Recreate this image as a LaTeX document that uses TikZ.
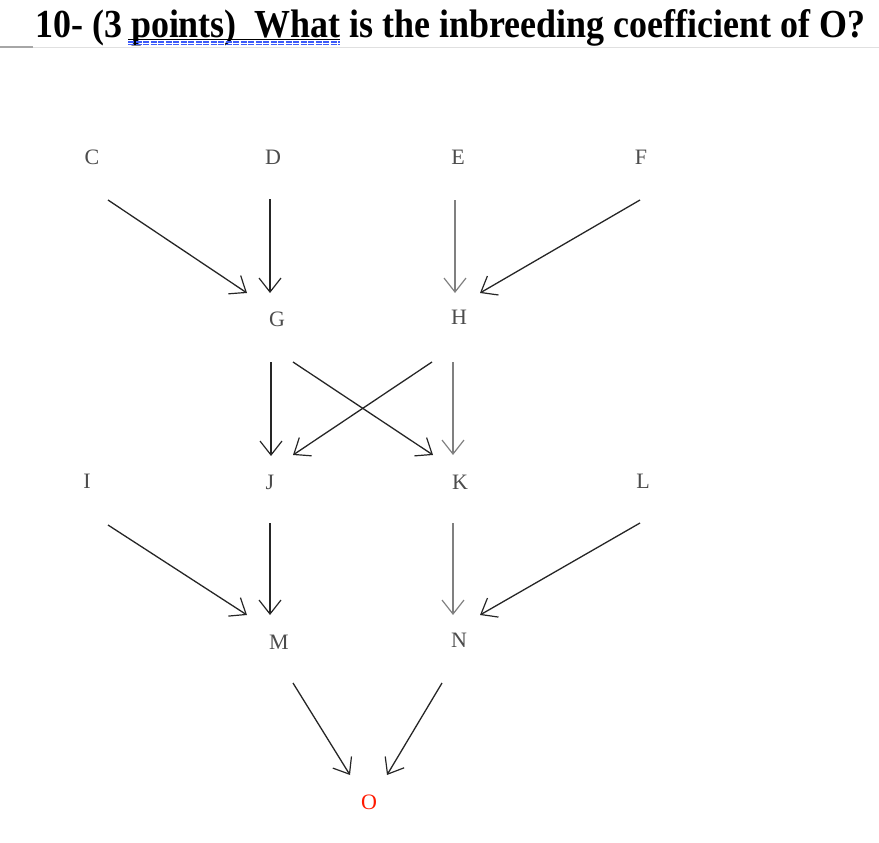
\documentclass[tikz,border=0pt]{standalone}
\usepackage{fontspec, graphicx}
\setmainfont{Liberation Serif}
\usetikzlibrary{arrows.meta}

\definecolor{spellblue}{RGB}{60,90,250}
\tikzset{
  person/.style={inner sep=0pt, text=black!70, font=\fontsize{22}{22}\selectfont},
  arr/.style={line width=1.3pt, draw=black!85, -{Straight Barb[length=14pt, width=22pt, line width=1.2pt]}},
  arrgray/.style={arr, draw=black!50}
}

\begin{document}
\begin{tikzpicture}[x=1pt, y=-1pt]
\useasboundingbox (0,0) rectangle (879,843);
% title
\node[anchor=base west, inner sep=0pt] (title) at (35,38)
  {\resizebox{830pt}{28pt}{\bfseries 10- (3 points)\ \ What is the inbreeding coefficient of O?}};
\draw[line width=1.6pt, black!35] (0,47) -- (33,47);
\draw[line width=0.6pt, black!12] (33,47) -- (879,47);
\draw[line width=0.8pt, black] (128,39.5) -- (340,39.5);
\draw[line width=1.6pt, spellblue, dash pattern=on 6pt off 1.5pt] (128,41.8) -- (340,41.8);
\draw[line width=1.6pt, spellblue, dash pattern=on 6pt off 1.5pt] (128,44.5) -- (340,44.5);
% individuals
\node[person] (C) at (92,157) {C};
\node[person] (D) at (273,157) {D};
\node[person] (E) at (458,157) {E};
\node[person] (F) at (641,157) {F};
\node[person] (G) at (277,319) {G};
\node[person] (H) at (459,317) {H};
\node[person] (I) at (87,481) {I};
\node[person] (J) at (270,482) {J};
\node[person] (K) at (460,482) {K};
\node[person] (L) at (643,481) {L};
\node[person] (M) at (279,642) {M};
\node[person] (N) at (459,640) {N};
\node[person, text=red!80!orange] (O) at (369,802) {O};
% descent
\draw[arr] ([shift={(16,43)}]C.center) -- ([shift={(-30,-26)}]G.center);
\draw[arr] ([shift={(-3,42)}]D.center) -- ([shift={(-7,-26)}]G.center);
\draw[arrgray] ([shift={(-3,43)}]E.center) -- ([shift={(-4,-24)}]H.center);
\draw[arr] ([shift={(-1,43)}]F.center) -- ([shift={(21,-24)}]H.center);
\draw[arr] ([shift={(-6,43)}]G.center) -- ([shift={(1,-26)}]J.center);
\draw[arr] ([shift={(16,43)}]G.center) -- ([shift={(-27,-27)}]K.center);
\draw[arr] ([shift={(-27,45)}]H.center) -- ([shift={(23,-27)}]J.center);
\draw[arrgray] ([shift={(-6,45)}]H.center) -- ([shift={(-7,-27)}]K.center);
\draw[arr] ([shift={(21,44)}]I.center) -- ([shift={(-32,-27)}]M.center);
\draw[arr] ([shift={(0,41)}]J.center) -- ([shift={(-9,-27)}]M.center);
\draw[arrgray] ([shift={(-7,41)}]K.center) -- ([shift={(-6,-25)}]N.center);
\draw[arr] ([shift={(-3,42)}]L.center) -- ([shift={(21,-25)}]N.center);
\draw[arr] ([shift={(14,41)}]M.center) -- ([shift={(-19,-27)}]O.center);
\draw[arr] ([shift={(-17,43)}]N.center) -- ([shift={(18,-27)}]O.center);
\end{tikzpicture}
\end{document}
